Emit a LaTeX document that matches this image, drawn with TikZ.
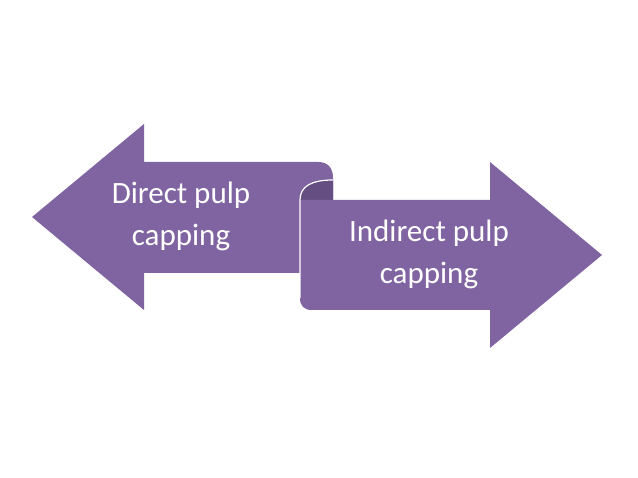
\documentclass[tikz,border=0pt]{standalone}
\usepackage{fontspec}
\setmainfont{Carlito}
\definecolor{purp}{HTML}{8064A2}
\definecolor{purpd}{HTML}{654F82}
\begin{document}
\begin{tikzpicture}[x=1pt,y=-1pt,
  arr/.style={fill=purp},
  lbl/.style={text=white,align=center,font=\fontsize{31}{42}\selectfont}]
\useasboundingbox[fill=white] (0,0) rectangle (638,478);
\fill[arr] (32,217) -- (144,124) -- (144,162) -- (318,162)
  .. controls (328,162) and (333,168) .. (333,178) -- (333,200) -- (300,200) -- (300,273)
  -- (144,273) -- (144,310) -- cycle;
\fill[purpd] (300,200) .. controls (300,186) and (312,180) .. (333,180) -- (333,200) -- cycle;
\fill[arr] (300,200) -- (490,200) -- (490,162) -- (602,255) -- (490,348) -- (490,310)
  -- (312,310) .. controls (304,310) and (300,306) .. (300,298) -- cycle;
\draw[white,line width=1.2pt] (300,298) -- (300,200) .. controls (300,186) and (312,180) .. (333,180);
\node[lbl] (a) at (181,216) {Direct pulp\\capping};
\node[lbl] (b) at (429,254) {Indirect pulp\\capping};
\end{tikzpicture}
\end{document}
